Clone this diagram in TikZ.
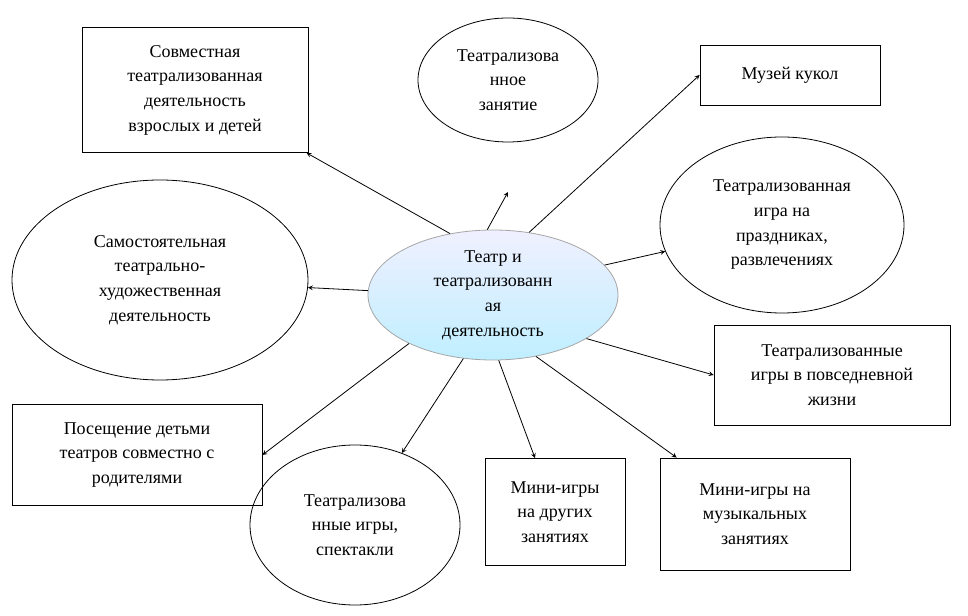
\documentclass[tikz,border=0pt]{standalone}
\usepackage{fontspec}
\setmainfont{Liberation Serif}
\usetikzlibrary{shapes.geometric}
\tikzset{
  box/.style={draw, semithick, align=center, inner sep=0pt},
  oval/.style={draw, semithick, ellipse, align=center, inner sep=0pt},
  arr/.style={->, >=stealth, semithick},
  sz/.style 2 args={minimum width=#1*0.75pt, minimum height=#2*0.75pt}
}
\begin{document}
\begin{tikzpicture}[x=0.75pt, y=-0.75pt, font=\fontsize{13.5}{18.5}\selectfont]
		\useasboundingbox (0,0) rectangle (968,616);
		
		\node[oval, sz={250}{130}, top color=blue!6, bottom color=blue!25!cyan!25, draw=gray!70] (c) at (493,295) {Театр и\\театрализованн\\ая\\деятельность};
		
		\node[box, sz={226}{125}] (sov) at (195,90) {Совместная\\театрализованная\\деятельность\\взрослых и детей};
		\node[oval, sz={180}{124}] (zan) at (508,80) {Театрализова\\нное\\занятие};
		\node[box, sz={180}{60}] (muz) at (790,75) {Музей кукол};
		\node[oval, sz={244}{176}] (pra) at (782,225) {Театрализованная\\игра на\\праздниках,\\развлечениях};
		\node[oval, sz={296}{200}] (sam) at (160,280) {Самостоятельная\\театрально-\\художественная\\деятельность};
		\node[box, sz={236}{100}] (pov) at (832,375) {Театрализованные\\игры в повседневной\\жизни};
		\node[box, sz={250}{101}] (pos) at (137,455) {Посещение детьми\\театров совместно с\\родителями};
		\node[oval, sz={210}{160}] (spe) at (355,525) {Театрализова\\нные игры,\\спектакли};
		\node[box, sz={140}{107}] (dru) at (555,512) {Мини-игры\\на других\\занятиях};
		\node[box, sz={190}{112}] (mus) at (755,514) {Мини-игры на\\музыкальных\\занятиях};
		
		% arrows from the centre
		\draw[arr] (c.125) -- (sov);
		\draw[arr] (c.95) -- (508,192);
		\draw[arr] (c.60) -- (muz.west);
		\draw[arr] (c.15) -- (pra);
		\draw[arr] (c.178) -- (sam);
		\draw[arr] (c.-25) -- (pov.west);
		\draw[arr] (c.-150) -- (pos.east);
		\draw[arr] (c.-115) -- (spe);
		\draw[arr] (c.-85) -- (dru);
		\draw[arr] (c.-55) -- (mus);
	\end{tikzpicture}
\end{document}
